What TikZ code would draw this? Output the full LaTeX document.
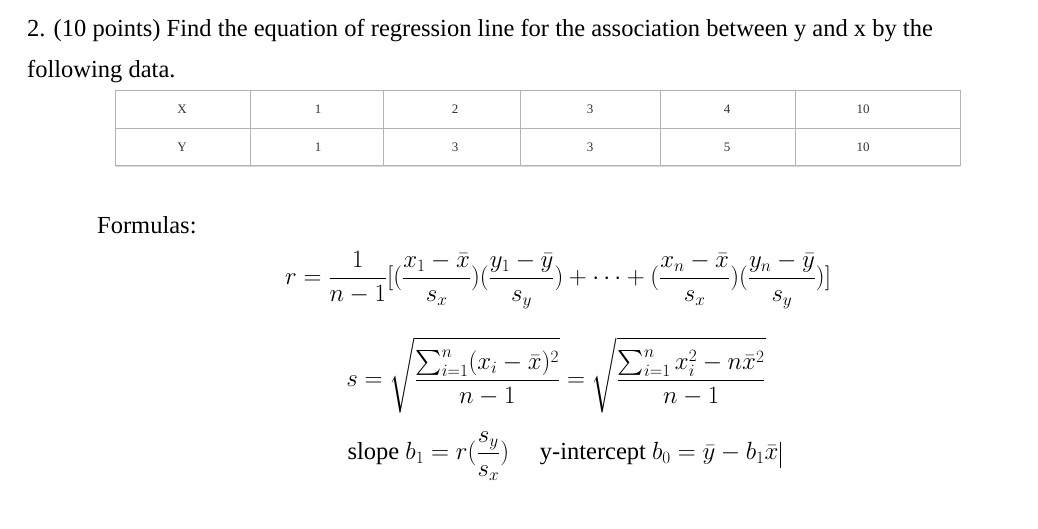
\documentclass[tikz,border=0pt]{standalone}
\usepackage{amsmath}
\usepackage{fontspec}
\setmainfont{Liberation Serif}
\tikzset{cell/.style={font=\fontsize{13}{15}\selectfont, text=black!80},
 txt/.style={anchor=base west, font=\fontsize{24.5}{28}\selectfont, inner sep=0},
 fm/.style={font=\fontsize{24.5}{28}\selectfont, inner sep=0}}
\begin{document}
\begin{tikzpicture}[x=1pt,y=-1pt]
\useasboundingbox (0,0) rectangle (1038,528);
\fill[white] (0,0) rectangle (1038,528);
\node[txt] (t1) at (27,36) {2. (10 points) Find the equation of regression line for the association between y and x by the};
\node[txt] (t2) at (27,77) {following data.};
% table
\draw[black!30, line width=0.8] (115,90) rectangle (960,165);
\draw[black!30, line width=0.8] (115,128) -- (960,128);
\foreach \x in {250,383,520,660,795} \draw[black!30, line width=0.8] (\x,90) -- (\x,165);
\draw[black!15, line width=1.5] (116,166.5) -- (960,166.5);
\foreach \x/\a/\b [count=\i] in {182/X/Y,318/1/1,455/2/3,590/3/3,727/4/5,863/10/10}{
 \node[cell] (a\i) at (\x,109) {\a};
 \node[cell] (b\i) at (\x,147) {\b};}
\node[txt] (f) at (97,233) {Formulas:};
\node[fm] (r) at (558,280) {$\displaystyle r=\frac{1}{n-1}[(\frac{x_1-\bar x}{s_x})(\frac{y_1-\bar y}{s_y})+\cdots+(\frac{x_n-\bar x}{s_x})(\frac{y_n-\bar y}{s_y})]$};
\node[fm] (s) at (556,375) {$\displaystyle s=\sqrt{\frac{\sum_{i=1}^{n}(x_i-\bar x)^2}{n-1}}=\sqrt{\frac{\sum_{i=1}^{n}x_i^2-n\bar x^2}{n-1}}$};
\node[fm] (b) at (563,456) {slope $b_1=r(\dfrac{s_y}{s_x})$\quad\ y-intercept $b_0=\bar y-b_1\bar x$};
\draw[line width=0.6] (b.east)++(2,-14) -- ++(0,26);
\end{tikzpicture}
\end{document}
